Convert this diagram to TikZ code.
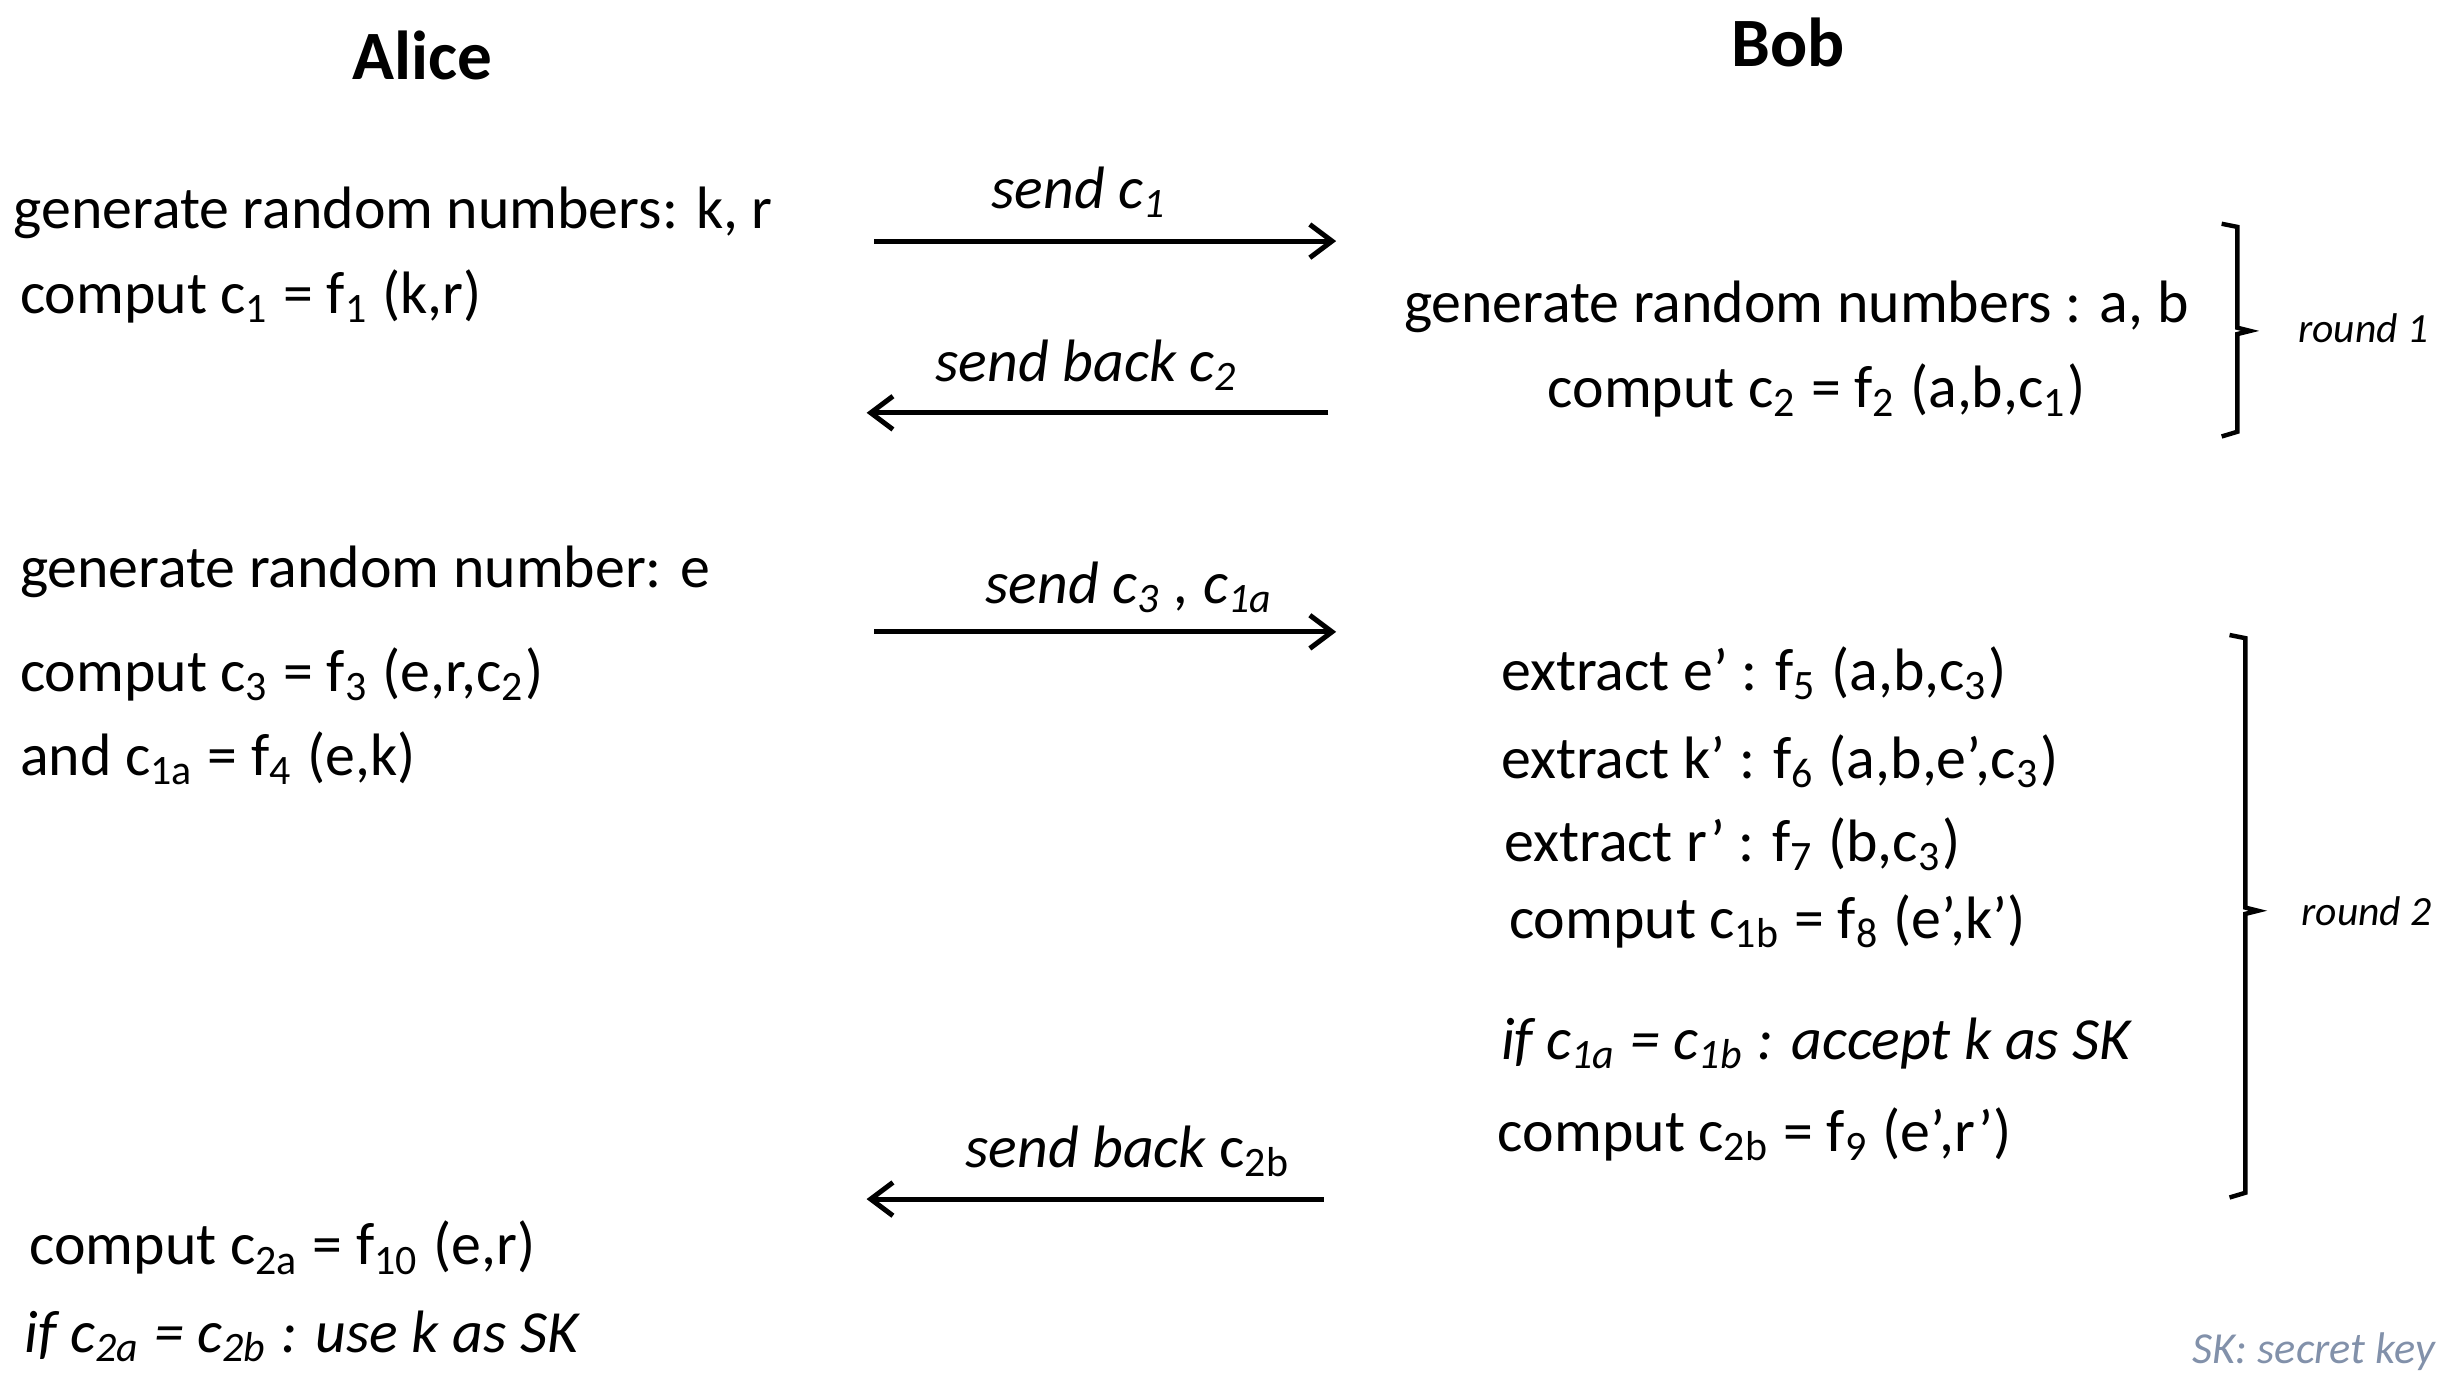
\documentclass[tikz,border=0pt]{standalone}
\usepackage{fontspec}
\setmainfont{Carlito}
\usetikzlibrary{arrows.meta}
\definecolor{skgray}{RGB}{130,145,170}
\tikzset{
 txt/.style={anchor=west,inner sep=0pt,font=\fontsize{10.8}{13}\selectfont},
 ctxt/.style={inner sep=0pt,font=\fontsize{10.8}{13}\selectfont},
 head/.style={inner sep=0pt,font=\fontsize{12.5}{15}\selectfont\bfseries},
 lbl/.style={inner sep=0pt,font=\fontsize{10.8}{13}\selectfont\itshape},
 rnd/.style={inner sep=0pt,font=\fontsize{7.5}{9}\selectfont\itshape,anchor=west},
 msg/.style={-{Straight Barb[length=4pt,width=6pt]},line width=0.9pt},
 brk/.style={line width=0.8pt}
}
\newcommand{\sbs}[1]{\textsubscript{#1}}
\begin{document}
\begin{tikzpicture}[x=0.01cm,y=-0.01cm]
\useasboundingbox (0,0) rectangle (1560,881);
\node[head] (alice) at (268,35) {Alice};
\node[head] (bob) at (1135,27) {Bob};
% round 1
\node[txt] (a1) at (8,135) {generate random numbers: k, r};
\node[txt] (a2) at (12,188) {comput c\sbs{1} = f\sbs{1} (k,r)};
\coordinate (m1s) at (555,153); \coordinate (m1e) at (848,153);
\draw[msg] (m1s) -- (m1e);
\node[lbl] (l1) at (685,122) {send c\sbs{1}};
\node[ctxt] (b1) at (1140,195) {generate random numbers : a, b};
\node[ctxt] (b2) at (1153,248) {comput c\sbs{2} = f\sbs{2} (a,b,c\sbs{1})};
\coordinate (m2s) at (843,262); \coordinate (m2e) at (550,262);
\draw[msg] (m2s) -- (m2e);
\node[lbl] (l2) at (690,232) {send back c\sbs{2}};
\draw[brk] (1410,142) -- (1420,144) -- (1420,208) -- (1428,210) -- (1420,212) -- (1420,274) -- (1410,277);
\node[rnd] (r1) at (1458,208) {round 1};
% round 2
\node[txt] (a3) at (12,363) {generate random number: e};
\node[txt] (a4) at (12,428) {comput c\sbs{3} = f\sbs{3} (e,r,c\sbs{2})};
\node[txt] (a5) at (12,481) {and c\sbs{1a} = f\sbs{4} (e,k)};
\coordinate (m3s) at (555,401); \coordinate (m3e) at (848,401);
\draw[msg] (m3s) -- (m3e);
\node[lbl] (l3) at (717,373) {send c\sbs{3} , c\sbs{1a}};
\node[txt] (b3) at (952,427) {extract e’ : f\sbs{5} (a,b,c\sbs{3})};
\node[txt] (b4) at (952,483) {extract k’ : f\sbs{6} (a,b,e’,c\sbs{3})};
\node[txt] (b5) at (954,536) {extract r’ : f\sbs{7} (b,c\sbs{3})};
\node[txt] (b6) at (957,585) {comput c\sbs{1b} = f\sbs{8} (e’,k’)};
\node[txt,font=\fontsize{10.8}{13}\selectfont\itshape] (b7) at (952,662) {if c\sbs{1a} = c\sbs{1b} : accept k as SK};
\node[txt] (b8) at (950,720) {comput c\sbs{2b} = f\sbs{9} (e’,r’)};
\draw[brk] (1415,403) -- (1425,405) -- (1425,576) -- (1433,578) -- (1425,580) -- (1425,757) -- (1415,760);
\node[rnd] (r2) at (1460,578) {round 2};
\coordinate (m4s) at (840,761); \coordinate (m4e) at (550,761);
\draw[msg] (m4s) -- (m4e);
\node[ctxt] (l4) at (716,731) {\itshape send back \upshape c\sbs{2b}};
\node[txt] (a6) at (18,792) {comput c\sbs{2a} = f\sbs{10} (e,r)};
\node[txt,font=\fontsize{10.8}{13}\selectfont\itshape] (a7) at (15,848) {if c\sbs{2a} = c\sbs{2b} : use k as SK};
\node[inner sep=0pt,anchor=east,text=skgray,font=\fontsize{8}{10}\selectfont\itshape] (sk) at (1546,858) {SK: secret key};
\end{tikzpicture}
\end{document}
